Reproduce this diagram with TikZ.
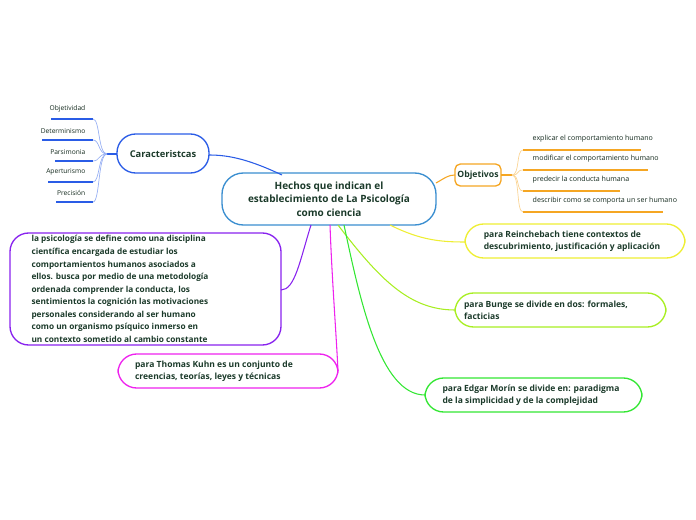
\documentclass[tikz,border=0pt]{standalone}
\usepackage{fontspec}
\setmainfont{Open Sans}
\definecolor{txt}{HTML}{1B3A2A}
\definecolor{cblue}{HTML}{2A5CE6}
\definecolor{corange}{HTML}{F5A623}
\definecolor{cyel}{HTML}{EEEE33}
\definecolor{clgreen}{HTML}{A8EE22}
\definecolor{cgreen}{HTML}{33E633}
\definecolor{cmag}{HTML}{EE22EE}
\definecolor{cpur}{HTML}{8822EE}
\definecolor{ccen}{HTML}{3A8ED0}
\begin{document}
\begin{tikzpicture}[x=0.75pt,y=-0.75pt,
 box/.style={rounded corners=14pt,line width=1pt,text=txt,font=\fontsize{6.4}{9.2}\selectfont\bfseries,align=left,inner sep=0pt},
 leaf/.style={font=\fontsize{5}{6}\selectfont,text=txt!70!black,anchor=south},
 con/.style={line width=0.8pt}]
\useasboundingbox (0,0) rectangle (696,520);
% center
\draw[ccen,line width=1pt,rounded corners=16pt,fill=white] (222,173) rectangle (436,225);
\node[text=txt,font=\fontsize{7.5}{10}\selectfont\bfseries,align=center] (cen) at (329,199) {Hechos que indican el\\establecimiento de  La Psicología\\como ciencia};
% Caracteristicas
\draw[cblue,line width=1pt,rounded corners=14pt] (117,134) rectangle (209,173);
\node[text=txt,font=\fontsize{7}{9}\selectfont\bfseries] (car) at (163,154) {Caracteristcas};
\draw[cblue,con] (282,175) .. controls (250,160) and (230,155) .. (209,155);
\draw[cblue,con] (107,154) -- (117,154);
\foreach \t/\y/\x in {Objetividad/119/51,Determinismo/140/42,Parsimonia/161/55,Aperturismo/182/48,Precisión/202/56}{
 \draw[cblue,line width=1.2pt] (\x,\y) -- (93,\y);
 \node[leaf,anchor=south east] at (90,\y-2) {\t};
 \draw[cblue!50,line width=0.5pt] (107,154) .. controls (98,154) and (100,\y) .. (93,\y);
}
% Objetivos
\draw[corange,line width=1pt,rounded corners=4pt] (455,164) rectangle (501,186);
\node[text=txt,font=\fontsize{6.5}{8}\selectfont\bfseries] (obj) at (478,175) {Objetivos};
\draw[corange,con] (436,183) .. controls (445,178) and (448,175) .. (455,175);
\draw[corange,con] (501,175) -- (512,175);
\foreach \t/\y/\x in {explicar el comportamiento humano/150/641,modificar el comportamiento humano/170/648,predecir la conducta humana/191/620,describir como se comporta un ser humano/212/663}{
 \draw[corange,line width=1.2pt] (523,\y) -- (\x,\y);
 \node[leaf,anchor=south west,font=\fontsize{5.3}{6}\selectfont] at (528,\y-3) {\t};
 \draw[corange!50,line width=0.5pt] (512,175) .. controls (520,175) and (516,\y) .. (523,\y);
}
% Reinchebach
\draw[cyel,box] (465,224) rectangle (685,258);
\node[box] (rei) at (572,241) {para Reinchebach tiene contextos de\\descubrimiento, justificación y aplicación};
\draw[cyel,con] (390,225) .. controls (420,240) and (440,242) .. (465,242);
% Bunge
\draw[clgreen,box] (455,293) rectangle (666,327);
\node[box] (bun) at (546,310) {para Bunge se divide en dos: formales,\\facticias};
\draw[clgreen,con] (338,225) .. controls (380,280) and (410,310) .. (455,310);
% Morin
\draw[cgreen,box] (425,378) rectangle (642,412);
\node[box] (mor) at (531,395) {para Edgar Morín se divide en: paradigma\\de la simplicidad y de la complejidad};
\draw[cgreen,con] (344,225) .. controls (360,300) and (380,395) .. (425,395);
% Kuhn
\draw[cmag,box] (118,354) rectangle (338,388);
\node[box] (kuh) at (214,371) {para Thomas Kuhn es un conjunto de\\creencias, teorías, leyes y técnicas};
\draw[cmag,con] (330,225) .. controls (332,280) and (336,330) .. (338,371);
% Psicologia
\draw[cpur,box] (10,233) rectangle (281,345);
\node[box,font=\fontsize{6.2}{9.4}\selectfont\bfseries] (psi) at (120,289) {la psicología se define como una disciplina\\científica encargada de estudiar los\\comportamientos humanos asociados a\\ellos. busca por medio de una metodología\\ordenada comprender la conducta, los\\sentimientos la cognición las motivaciones\\personales considerando al ser humano\\como un organismo psíquico inmerso en\\un contexto sometido al cambio constante};
\draw[cpur,con] (311,225) .. controls (300,260) and (295,290) .. (281,290);
\end{tikzpicture}
\end{document}
